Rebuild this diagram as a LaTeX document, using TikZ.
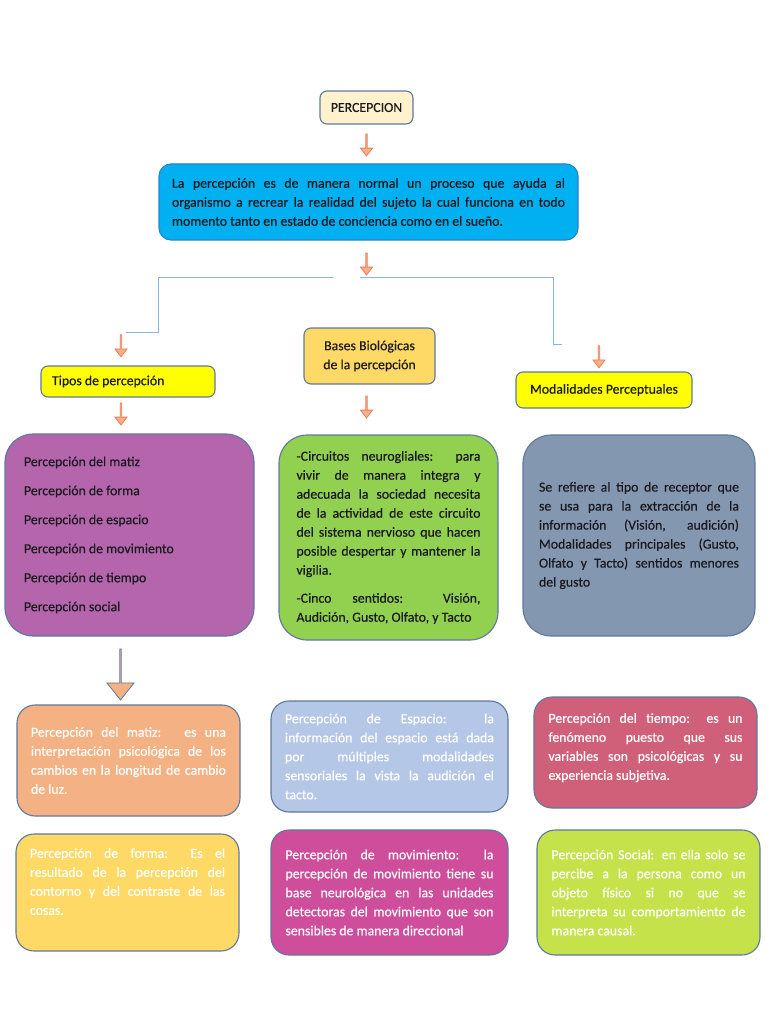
\documentclass[tikz,border=0pt]{standalone}
\usepackage{fontspec}
\setmainfont{Carlito}[FakeBold=0.4]
\usetikzlibrary{positioning,shapes.arrows}

\definecolor{crema}{RGB}{255,242,204}
\definecolor{celeste}{RGB}{0,176,240}
\definecolor{azulborde}{RGB}{40,130,200}
\definecolor{amarillo}{RGB}{255,255,0}
\definecolor{oro}{RGB}{255,217,102}
\definecolor{morado}{RGB}{180,101,171}
\definecolor{verde}{RGB}{146,208,80}
\definecolor{pizarra}{RGB}{132,151,176}
\definecolor{salmon}{RGB}{244,177,131}
\definecolor{azulclaro}{RGB}{180,199,231}
\definecolor{rosa}{RGB}{208,96,122}
\definecolor{fucsia}{RGB}{206,78,156}
\definecolor{lima}{RGB}{197,226,75}
\definecolor{borde}{RGB}{95,120,160}
\definecolor{linea}{RGB}{141,179,226}
\definecolor{flechaborde}{RGB}{237,125,95}
\definecolor{tinta}{RGB}{25,25,30}

\newcommand{\jl}[1]{\hbox to\hsize{#1}}
\newcommand{\fl}[1]{\hbox to\hsize{#1\hfil}}
\newcommand{\bloque}[2]{\parbox{#1}{#2}}

\begin{document}
\begin{tikzpicture}[x=1pt, y=-1pt,
	caja/.style={draw=borde, line width=1.1pt, inner sep=0pt, text=tinta, font=\fontsize{13.8}{19}\selectfont},
	chica/.style={caja, rounded corners=7pt},
	grande/.style={caja, rounded corners=28pt},
	nota/.style={caja, rounded corners=18pt, text=white},
	flecha/.style={single arrow, shape border rotate=270, fill=salmon, draw=flechaborde, line width=0.8pt, inner sep=0pt, minimum width=12pt, minimum height=22pt, single arrow head extend=3pt, single arrow tip angle=75},
	flechota/.style={flecha, draw=borde, minimum width=27pt, minimum height=51pt, single arrow head extend=7pt, single arrow tip angle=77},
	rama/.style={draw=linea, line width=1pt}]
	\useasboundingbox[fill=white] (0,0) rectangle (768,1024);

	\node[chica, fill=crema, minimum width=93pt, minimum height=33pt] (titulo) at (366.5,107.5) {PERCEPCION};
	\node[caja, draw=azulborde, rounded corners=12pt, fill=celeste, minimum width=419pt, minimum height=76pt] (def) at (368.5,202) {\bloque{393pt}{%
		\jl{La percepción es de manera normal un proceso que ayuda al}
		\jl{organismo a recrear la realidad del sujeto la cual funciona en todo}
		\fl{momento tanto en estado de conciencia como en el sueño.}}};

	\node[chica, fill=amarillo, minimum width=174pt, minimum height=31pt] (tipos) at (128,381.5) {\makebox[152pt][l]{Tipos de percepción}};
	\node[chica, fill=oro, minimum width=131pt, minimum height=56pt, align=center] (bases) at (369.5,356) {Bases Biológicas\\de la percepción};
	\node[chica, fill=amarillo, minimum width=176pt, minimum height=36pt] (modal) at (604,390) {Modalidades Perceptuales};

	\node[grande, fill=morado, minimum width=249pt, minimum height=202pt] (lista) at (129.5,535) {\bloque{211pt}{\baselineskip=29pt
		\fl{Percepción del matiz}
		\fl{Percepción de forma}
		\fl{Percepción de espacio}
		\fl{Percepción de movimiento}
		\fl{Percepción de tiempo}
		\fl{Percepción social}}};
	\node[grande, fill=verde, minimum width=219pt, minimum height=205pt] (bio) at (388.5,537.5) {\bloque{184pt}{%
		\jl{-Circuitos neurogliales: para}
		\jl{vivir de manera integra y}
		\jl{adecuada la sociedad necesita}
		\jl{de la actividad de este circuito}
		\jl{del sistema nervioso que hacen}
		\jl{posible despertar y mantener la}
		\fl{vigilia.}
		\vskip9pt
		\jl{-Cinco sentidos: Visión,}
		\fl{Audición, Gusto, Olfato, y Tacto}}};
	\node[grande, fill=pizarra, minimum width=232pt, minimum height=201pt] (receptor) at (639,535.5) {\bloque{200pt}{%
		\jl{Se refiere al tipo de receptor que}
		\jl{se usa para la extracción de la}
		\jl{información (Visión, audición)}
		\jl{Modalidades principales (Gusto,}
		\jl{Olfato y Tacto) sentidos menores}
		\fl{del gusto}}};

	\node[nota, fill=salmon, minimum width=223pt, minimum height=111pt] (matiz) at (128.5,760.5) {\bloque{195pt}{%
		\jl{Percepción del matiz: \ es una}
		\jl{interpretación psicológica de los}
		\jl{cambios en la longitud de cambio}
		\fl{de luz.}}};
	\node[nota, fill=azulclaro, minimum width=237pt, minimum height=111pt] (espacio) at (389.5,756.5) {\bloque{209pt}{%
		\jl{Percepción de Espacio: la}
		\jl{información del espacio está dada}
		\jl{por múltiples modalidades}
		\jl{sensoriales la vista la audición el}
		\fl{tacto.}}};
	\node[nota, fill=rosa, minimum width=223pt, minimum height=111pt] (tiempo) at (645.5,752.5) {\bloque{194pt}{%
		\jl{Percepción del tiempo: es un}
		\jl{fenómeno puesto que sus}
		\jl{variables son psicológicas y su}
		\fl{experiencia subjetiva.}
		\vskip-7pt\hbox{}}};
	\node[nota, fill=oro, minimum width=223pt, minimum height=117pt] (forma) at (127.5,892.5) {\bloque{195pt}{%
		\jl{Percepción de forma: Es el}
		\jl{resultado de la percepción del}
		\jl{contorno y del contraste de las}
		\fl{cosas.}
		\vskip3pt\hbox{}}};
	\node[nota, fill=fucsia, minimum width=237pt, minimum height=125pt] (movimiento) at (389.5,892.5) {\bloque{208pt}{%
		\jl{Percepción de movimiento: la}
		\jl{percepción de movimiento tiene su}
		\jl{base neurológica en las unidades}
		\jl{detectoras del movimiento que son}
		\fl{sensibles de manera direccional}}};
	\node[nota, fill=lima, minimum width=223pt, minimum height=125pt] (social) at (648.5,892.5) {\bloque{194pt}{%
		\jl{Percepción Social: en ella solo se}
		\jl{percibe a la persona como un}
		\jl{objeto físico si no que se}
		\jl{interpreta su comportamiento de}
		\fl{manera causal.}}};

	\node[flecha, below=9pt of titulo] (f1) {};
	\node[flecha, below=12pt of def, xshift=-2pt] (f2) {};
	\node[flecha, above=8pt of tipos, xshift=-7pt] (f3) {};
	\node[flecha, above=3pt of modal, xshift=-5pt] (f4) {};
	\node[flecha, below=5pt of tipos, xshift=-7pt] (f5) {};
	\node[flecha, below=11pt of bases, xshift=-3pt] (f6) {};
	\node[flechota, below=12pt of lista, xshift=-9pt] (f7) {};

	\coordinate (ja) at (333,277);
	\coordinate (jb) at (360,277);
	\coordinate (ka) at (158,332);
	\coordinate (la) at (126,332);
	\coordinate (kb) at (553,344);
	\coordinate (lb) at (562,344);
	\draw[rama] (ja) -| (ka) -- (la);
	\draw[rama] (jb) -| (kb) -- (lb);
\end{tikzpicture}
\end{document}
